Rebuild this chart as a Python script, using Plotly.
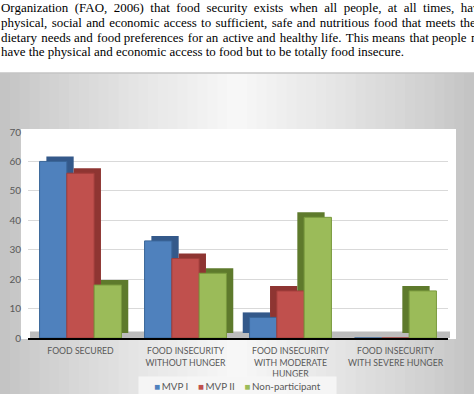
import plotly.graph_objects as go

# ---------------- data ----------------
categories = [
    "FOOD SECURED",
    "FOOD INSECURITY<br>WITHOUT HUNGER",
    "FOOD INSECURITY<br>WITH MODERATE<br>HUNGER",
    "FOOD INSECURITY<br>WITH SEVERE HUNGER",
]
series_names = ["MVP I", "MVP II", "Non-participant"]
mvp1 = [60, 33, 7, 0]
mvp2 = [56, 27, 16, 0]
non_participant = [18, 22, 41, 16]
y_ticks = [0, 10, 20, 30, 40, 50, 60, 70]

text_lines = [
    "Organization (FAO, 2006) that food security exists when all people, at all times, have",
    "physical, social and economic access to sufficient, safe and nutritious food that meets their",
    "dietary needs and food preferences for an active and healthy life. This means that people may",
    "have the physical and economic access to food but to be totally food insecure.",
]
# extra spacing per word gap (justified paragraph look)
line_gaps = [[" \u00a0"], [" \u200a"], [" \u200a", " "], [" "]]

# ---------------- layout geometry ----------------
W, H = 474, 394
L, R, T, B = 28, 26, 132, 56
PW, PH = W - L - R, H - T - B


def px_x(px):
    return (px - L) / PW


def px_y(py):
    return (H - B - py) / PH


def justify(line, gaps):
    words = line.split(" ")
    out = words[0]
    for i, w in enumerate(words[1:]):
        out += gaps[i % len(gaps)] + w
    return out


front_colors = ["#4F81BD", "#C0504D", "#9BBB59"]
side_colors = ["#34598A", "#8E3532", "#5E7A2C"]
edge_colors = ["#3A6699", "#A03E3B", "#7A9A3E"]
series_values = [mvp1, mvp2, non_participant]

bar_w = 0.26
offsets = [-0.39, -0.13, 0.13]
side_dir = [1, 1, -1, -1]
depth_dx = 0.065
depth_dy = 1.7

fig = go.Figure()

# depth (side/top) faces first, drawn behind
for name, vals, off, sc in zip(series_names, series_values, offsets, side_colors):
    fig.add_trace(go.Bar(
        x=categories, y=vals, base=depth_dy,
        offset=[off + d * depth_dx for d in side_dir], width=bar_w,
        marker=dict(color=sc, line=dict(width=0)),
        showlegend=False, hoverinfo="skip",
    ))

# front faces
for name, vals, off, fc, ec in zip(series_names, series_values, offsets, front_colors, edge_colors):
    fig.add_trace(go.Bar(
        x=categories, y=vals, name=name,
        offset=off, width=bar_w,
        marker=dict(color=fc, line=dict(width=1, color=ec)),
        hoverinfo="skip", showlegend=False,
    ))

shapes = []
# gray gradient background (decorative)
n = 48
for i in range(n):
    x0 = W * i / n
    x1 = W * (i + 1) / n
    xc = (x0 + x1) / 2
    t = 1 - abs(xc - W / 2) / (W / 2)
    g = int(194 + (248 - 194) * (t ** 0.8))
    shapes.append(dict(type="rect", xref="paper", yref="paper", layer="below",
                       x0=px_x(x0), x1=px_x(x1) + 0.002, y0=px_y(H), y1=px_y(73),
                       fillcolor=f"rgb({g},{g},{g})", line=dict(width=0)))
shapes.append(dict(type="line", xref="paper", yref="paper", layer="below",
                   x0=px_x(0), x1=px_x(W), y0=px_y(73), y1=px_y(73),
                   line=dict(color="#C4C4C4", width=1.5)))
# white chart area
shapes.append(dict(type="rect", xref="paper", yref="paper", layer="below",
                   x0=px_x(21), x1=px_x(456), y0=px_y(339), y1=px_y(129),
                   fillcolor="white", line=dict(width=0)))
# floor
shapes.append(dict(type="rect", xref="paper", yref="y", layer="below",
                   x0=px_x(30), x1=px_x(450), y0=0, y1=2.2,
                   fillcolor="#BDBDBD", line=dict(width=0)))

annotations = []
line_y = [7.5, 22.5, 37, 51.5]
for line, gaps, ly in zip(text_lines, line_gaps, line_y):
    annotations.append(dict(
        text=justify(line, gaps), xref="paper", yref="paper", x=px_x(-1), y=px_y(ly),
        xanchor="left", yanchor="middle", showarrow=False,
        font=dict(family="Liberation Serif", size=12.95, color="black"),
    ))

# legend (compact, Excel-like)
legend_parts = []
for name, c in zip(series_names, front_colors):
    legend_parts.append(f'<span style="color:{c}">\u25A0</span>\u2009{name}')
legend_text = "\u00a0\u00a0\u00a0\u00a0\u00a0" + "\u00a0\u00a0\u00a0\u00a0".join(legend_parts) + "\u00a0\u00a0\u00a0\u00a0\u00a0"
annotations.append(dict(
    text=legend_text, xref="paper", yref="paper", x=px_x(237), y=px_y(386),
    xanchor="center", yanchor="middle", showarrow=False,
    bgcolor="rgba(246,246,246,0.95)", borderpad=3,
    font=dict(family="Lato", size=9.8, color="#595959"),
))

fig.update_layout(
    width=W, height=H,
    margin=dict(l=L, r=R, t=T, b=B, pad=0),
    paper_bgcolor="white", plot_bgcolor="rgba(0,0,0,0)",
    barmode="overlay",
    shapes=shapes, annotations=annotations,
    font=dict(family="Lato", color="#595959"),
    showlegend=False,
    xaxis=dict(range=[-0.5, 3.5], showline=True, linecolor="black", linewidth=2,
               tickfont=dict(size=8.7, color="#595959"), showgrid=False, ticks="",
               ticklabelstandoff=4, automargin=False),
    yaxis=dict(range=[0, 70], tickvals=y_ticks, showgrid=True, gridcolor="#D9D9D9",
               zeroline=False, showline=False, ticks="", ticklabelstandoff=6,
               tickfont=dict(size=10, color="#595959"), automargin=False),
)

fig.write_html(
    "out.html",
    config={"displayModeBar": False, "staticPlot": True},
    post_script="document.body.style.margin='0';document.body.style.overflow='hidden';",
)
